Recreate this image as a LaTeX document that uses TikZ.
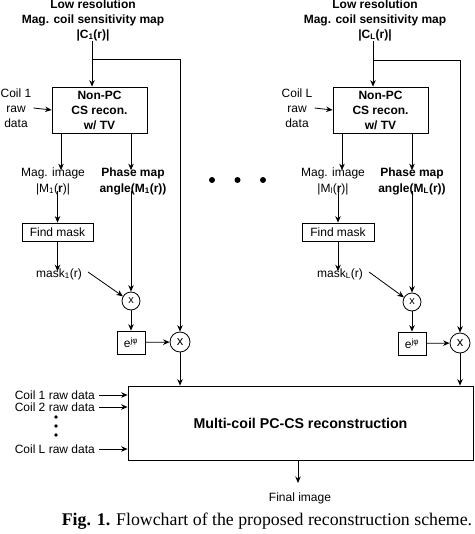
\documentclass[tikz,border=0pt]{standalone}
\usepackage{fontspec}
\setmainfont{Liberation Sans}
\newfontfamily\capfont{Liberation Serif}
\usetikzlibrary{arrows.meta}
\begin{document}
\begin{tikzpicture}[x=1pt,y=-1pt,
  every node/.style={inner sep=0pt, font=\fontsize{12}{15}\selectfont},
  lbl/.style={align=center},
  lbl2/.style={align=center, font=\fontsize{12}{16}\selectfont},
  blbl/.style={align=center, font=\fontsize{12}{15}\selectfont\bfseries},
  blbl2/.style={align=center, font=\fontsize{12}{16}\selectfont\bfseries},
  stepbox/.style={draw, line width=0.8pt, inner sep=0pt},
  mul/.style={draw, circle, line width=0.8pt, inner sep=0pt},
  arr/.style={line width=0.8pt, -{Stealth[length=6.5pt,width=5.5pt]}},
  ln/.style={line width=0.8pt}]
\useasboundingbox (0,0) rectangle (474,534);

% ---------- left column ----------
\node[blbl] (senL) at (93,20) {Low resolution\\Mag. coil sensitivity map\\|C\textsubscript{1}(r)|};
\coordinate (jL) at (92,59);
\node[stepbox, blbl, minimum width=95pt, minimum height=46pt] (recL) at (99.5,110) {Non-PC\\CS recon.\\w/ TV};
\node[lbl] (coil1) at (16,108) {Coil 1\\raw\\data};
\coordinate (xaL) at (61,0);
\coordinate (xbL) at (131,0);
\node[lbl2] (magL) at (53,181) {Mag. image\\|M\textsubscript{1}(\textbf{r})|};
\node[blbl2] (phL) at (133,181) {Phase map\\angle(M\textsubscript{1}(r))};
\node[stepbox, minimum width=71pt, minimum height=18pt] (fmL) at (57.5,232) {Find mask};
\node[lbl] (mkL) at (59,274) {mask\textsubscript{1}(r)};
\node[mul, minimum size=18pt, font=\fontsize{11}{12}\selectfont] (m1L) at (131,301) {x};
\node[stepbox, minimum width=28pt, minimum height=23pt] (eL) at (131,342.5) {e\textsuperscript{jφ}};
\node[mul, minimum size=20pt, font=\fontsize{13}{14}\selectfont] (m2L) at (180,342) {x};

% ---------- right column ----------
\node[blbl] (senR) at (375,20) {Low resolution\\Mag. coil sensitivity map\\|C\textsubscript{L}(r)|};
\coordinate (jR) at (373,60);
\node[stepbox, blbl, minimum width=95pt, minimum height=46pt] (recR) at (380.5,110) {Non-PC\\CS recon.\\w/ TV};
\node[lbl] (coilL) at (297,108) {Coil L\\raw\\data};
\coordinate (xaR) at (342,0);
\coordinate (xbR) at (412,0);
\node[lbl2] (magR) at (333,181) {Mag. image\\|M\textsubscript{l}(\textbf{r})|};
\node[blbl2] (phR) at (412,181) {Phase map\\angle(M\textsubscript{L}(r))};
\node[stepbox, minimum width=72pt, minimum height=18pt] (fmR) at (338,232) {Find mask};
\node[lbl] (mkR) at (340,274) {mask\textsubscript{L}(r)};
\node[mul, minimum size=18pt, font=\fontsize{11}{12}\selectfont] (m1R) at (412,302) {x};
\node[stepbox, minimum width=28pt, minimum height=23pt] (eR) at (412,343.5) {e\textsuperscript{jφ}};
\node[mul, minimum size=20pt, font=\fontsize{13}{14}\selectfont] (m2R) at (460,343) {x};

% dots between columns
\fill (212,180) circle (3);
\fill (237.5,180) circle (3);
\fill (263,180) circle (3);

% ---------- bottom ----------
\node[stepbox, minimum width=345pt, minimum height=74pt, font=\fontsize{14.2}{17}\selectfont\bfseries] (multi) at (300.5,423) {Multi-coil PC-CS reconstruction};
\node[lbl, anchor=east] (in1) at (95,395) {Coil 1 raw data};
\node[lbl, anchor=east] (in2) at (95,407) {Coil 2 raw data};
\node[lbl, anchor=east] (inL) at (95,449) {Coil L raw data};
\fill (56,417) circle (1.8);
\fill (56,426) circle (1.8);
\fill (56,435) circle (1.8);
\node[lbl] (fin) at (300,498) {Final image};
\coordinate (fe) at (298,483);
\node[font=\capfont\fontsize{17.8}{19}\selectfont] (cap) at (267,521) {\textbf{Fig. 1.} Flowchart of the proposed reconstruction scheme.};

% ---------- connectors left ----------
\draw[arr] (senL.south -| jL) -- (recL.north -| jL);
\draw[arr] (jL) -| (m2L.north);
\draw[arr] ([xshift=2pt]coil1.east) -- (recL.west);
\draw[arr] (recL.south -| xaL) -- ([yshift=-3pt]magL.north -| xaL);
\draw[arr] (recL.south -| xbL) -- ([yshift=-3pt]phL.north -| xbL);
\draw[arr] ([yshift=4pt]magL.south -| fmL.north) -- (fmL.north);
\draw[arr] (fmL.south) -- ([yshift=-3pt]mkL.north -| fmL.south);
\draw[arr] ([yshift=4pt]phL.south -| m1L.north) -- (m1L.north);
\draw[arr] ([xshift=6pt,yshift=2pt]mkL.east) -- (m1L.150);
\draw[arr] (m1L) -- (eL);
\draw[arr] (eL) -- (m2L);
\draw[arr] (m2L.south) -- (m2L.south |- multi.north);

% ---------- connectors right ----------
\draw[arr] (senR.south -| jR) -- (recR.north -| jR);
\draw[arr] (jR) -| (m2R.north);
\draw[arr] ([xshift=2pt]coilL.east) -- (recR.west);
\draw[arr] (recR.south -| xaR) -- ([yshift=-3pt]magR.north -| xaR);
\draw[arr] (recR.south -| xbR) -- ([yshift=-3pt]phR.north -| xbR);
\draw[arr] ([yshift=4pt]magR.south -| fmR.north) -- (fmR.north);
\draw[arr] (fmR.south) -- ([yshift=-3pt]mkR.north -| fmR.south);
\draw[arr] ([yshift=4pt]phR.south -| m1R.north) -- (m1R.north);
\draw[arr] ([xshift=6pt,yshift=2pt]mkR.east) -- (m1R.150);
\draw[arr] (m1R) -- (eR);
\draw[arr] (eR) -- (m2R);
\draw[arr] (m2R.south) -- (m2R.south |- multi.north);

% ---------- connectors bottom ----------
\draw[arr] ([xshift=4pt]in1.east) -- (in1.east -| multi.west);
\draw[arr] ([xshift=4pt]in2.east) -- (in2.east -| multi.west);
\draw[arr] ([xshift=4pt]inL.east) -- (inL.east -| multi.west);
\draw[arr] (multi.south -| fe) -- (fe);
\end{tikzpicture}
\end{document}
